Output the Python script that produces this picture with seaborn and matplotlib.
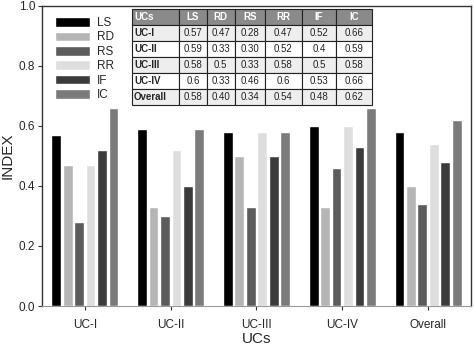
import matplotlib
matplotlib.use("Agg")
import matplotlib.pyplot as plt
import seaborn as sns
import pandas as pd

categories = ["UC-I", "UC-II", "UC-III", "UC-IV", "Overall"]
indices = ["LS", "RD", "RS", "RR", "IF", "IC"]
LS = [0.57, 0.59, 0.58, 0.60, 0.58]
RD = [0.47, 0.33, 0.50, 0.33, 0.40]
RS = [0.28, 0.30, 0.33, 0.46, 0.34]
RR = [0.47, 0.52, 0.58, 0.60, 0.54]
IF = [0.52, 0.40, 0.50, 0.53, 0.48]
IC = [0.66, 0.59, 0.58, 0.66, 0.62]
table_text = [
    ["0.57", "0.47", "0.28", "0.47", "0.52", "0.66"],
    ["0.59", "0.33", "0.30", "0.52", "0.4", "0.59"],
    ["0.58", "0.5", "0.33", "0.58", "0.5", "0.58"],
    ["0.6", "0.33", "0.46", "0.6", "0.53", "0.66"],
    ["0.58", "0.40", "0.34", "0.54", "0.48", "0.62"],
]

series = {"LS": LS, "RD": RD, "RS": RS, "RR": RR, "IF": IF, "IC": IC}
rows = []
for k, vals in series.items():
    for c, v in zip(categories, vals):
        rows.append({"UCs": c, "Index": k, "INDEX": v})
df = pd.DataFrame(rows)

colors = ["#000000", "#b5b5b5", "#5c5c5c", "#dedede", "#3b3b3b", "#7b7b7b"]

sns.set_style("white")
plt.rcParams["font.family"] = ["Liberation Sans", "DejaVu Sans"]

fig = plt.figure(figsize=(4.74, 3.45), dpi=100)
ax = fig.add_axes([0.0886, 0.113, 0.905, 0.870])
sns.barplot(data=df, x="UCs", y="INDEX", hue="Index", order=categories,
            hue_order=indices, palette=colors, width=0.8, gap=0.15,
            saturation=1, ax=ax, legend=True)

ax.set_ylim(0, 1.0)
ax.set_xlim(-0.5, 4.5)
ax.set_yticks([0, 0.2, 0.4, 0.6, 0.8, 1.0])
ax.set_yticklabels(["0.0", "0.2", "0.4", "0.6", "0.8", "1.0"])
ax.tick_params(axis="both", labelsize=8.5, direction="out", length=3, width=0.8,
               color="#333333", left=True, bottom=True, pad=2)
ax.tick_params(axis="x", pad=6)
ax.set_xlabel("UCs", fontsize=11, labelpad=1)
ax.set_ylabel("INDEX", fontsize=11, labelpad=3)

for s in ["left", "top", "right"]:
    ax.spines[s].set_visible(True)
    ax.spines[s].set_color("#333333")
    ax.spines[s].set_linewidth(1.0)
ax.spines["bottom"].set_color("#999999")
ax.spines["bottom"].set_linewidth(0.8)

leg = ax.legend(loc="upper left", bbox_to_anchor=(0.01, 0.99), frameon=False,
                fontsize=8.5, handlelength=3.0, handleheight=0.9,
                labelspacing=0.2, handletextpad=0.6, borderaxespad=0.3)

col_labels = ["UCs"] + indices
cell_text = [[c] + r for c, r in zip(categories, table_text)]
tbl = ax.table(cellText=cell_text, colLabels=col_labels,
               bbox=[0.21, 0.67, 0.56, 0.32], cellLoc="center")
tbl.auto_set_font_size(False)
tbl.set_fontsize(7)
widths = [47, 28, 28, 30, 37, 35, 36]
tot = sum(widths)
for (r, c), cell in tbl.get_celld().items():
    cell.set_width(widths[c] / tot * 0.56)
    cell.set_edgecolor("#222222")
    cell.set_linewidth(0.8)
    if r == 0:
        cell.set_facecolor("#8a8a8a")
        cell.get_text().set_color("white")
        cell.get_text().set_fontweight("bold")
    else:
        cell.set_facecolor("#eeeeee" if r % 2 == 1 else "#ffffff")
        if c == 0:
            cell.get_text().set_fontweight("bold")
            cell.get_text().set_ha("left")
            cell.PAD = 0.04
        else:
            cell.get_text().set_color("#222222")
    if c == 0 and r == 0:
        cell.get_text().set_ha("left")
        cell.PAD = 0.04

fig.savefig("out.png", dpi=100)
